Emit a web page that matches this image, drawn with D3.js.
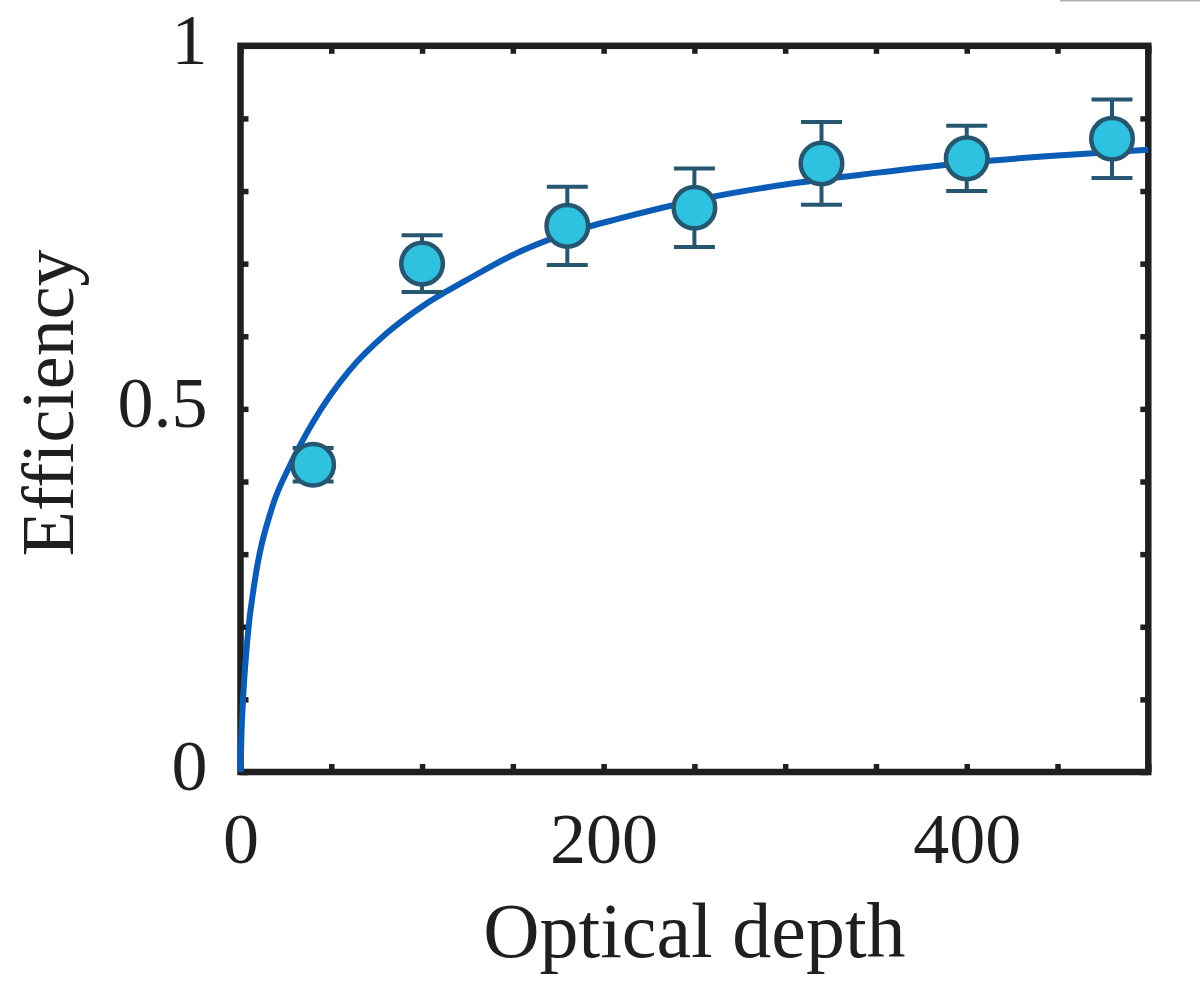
<!DOCTYPE html>
<html>
<head>
<meta charset="utf-8">
<script src="https://cdn.jsdelivr.net/npm/d3@7"></script>
<style>
  body { margin: 0; background: #fff; }
  text { font-family: "Liberation Serif", "DejaVu Serif", serif; fill: #1f1f1f; }
</style>
</head>
<body>
<svg id="chart" width="1200" height="996"></svg>
<script>
// measured points
const depths = [40, 100, 180, 250, 320, 400, 480];
const efficiency = [0.423, 0.700, 0.752, 0.777, 0.838, 0.845, 0.872];
const errors = [0.023, 0.039, 0.054, 0.054, 0.057, 0.045, 0.054];

// fitted curve
const fitDepth = [0, 0.5, 1.3, 3.7, 8.3, 17.5, 27.6, 40, 60, 80, 100, 125, 150, 180, 210, 250, 300, 350, 400, 450, 500];
const fitEff = [0, 0.05, 0.095, 0.18, 0.27, 0.365, 0.424, 0.482, 0.553, 0.603, 0.641, 0.678, 0.712, 0.742, 0.763, 0.787, 0.809, 0.825, 0.839, 0.849, 0.857];

const xTicks = [0, 50, 100, 150, 200, 250, 300, 350, 400, 450, 500];
const xLabels = [0, 200, 400];
const yTicks = [0, 0.1, 0.2, 0.3, 0.4, 0.5, 0.6, 0.7, 0.8, 0.9, 1];
const yLabels = [0, 0.5, 1];

const plotLeft = 240.5, plotRight = 1148.3, plotTop = 45.8, plotBottom = 772;
const ink = "#1f1f1f";

const svg = d3.select("#chart");

// faint line at the top right edge
svg.append("line")
    .attr("x1", 1060).attr("x2", 1200)
    .attr("y1", 0.8).attr("y2", 0.8)
    .attr("stroke", "#b0b0b0").attr("stroke-width", 1.6);

const x = d3.scaleLinear().domain([0, 500]).range([plotLeft, plotRight]);
const y = d3.scaleLinear().domain([0, 1]).range([plotBottom, plotTop]);

// axes, ticks pointing in
const xAxis = d3.axisBottom(x).tickValues(xTicks).tickSize(-8).tickSizeOuter(0).tickPadding(40)
    .tickFormat(d => xLabels.includes(d) ? d3.format("d")(d) : "");
const yAxis = d3.axisLeft(y).tickValues(yTicks).tickSize(-8).tickSizeOuter(0).tickPadding(33)
    .tickFormat(d => yLabels.includes(d) ? d3.format("")(d) : "");

const gx = svg.append("g").attr("transform", `translate(0,${plotBottom})`).call(xAxis);
const gy = svg.append("g").attr("transform", `translate(${plotLeft},0)`).call(yAxis);
svg.append("g").attr("transform", `translate(0,${plotTop})`)
    .call(d3.axisTop(x).tickValues(xTicks).tickSize(-8).tickSizeOuter(0).tickFormat(""));
svg.append("g").attr("transform", `translate(${plotRight},0)`)
    .call(d3.axisRight(y).tickValues(yTicks).tickSize(-8).tickSizeOuter(0).tickFormat(""));

svg.selectAll(".domain").remove();
svg.selectAll(".tick line").attr("stroke", ink).attr("stroke-width", 5.5);
gx.selectAll("text").style("font-size", "72px").attr("fill", ink);
gy.selectAll("text").style("font-size", "72px").attr("fill", ink).attr("dy", "0.24em");

svg.append("rect")
    .attr("x", plotLeft).attr("y", plotTop)
    .attr("width", plotRight - plotLeft).attr("height", plotBottom - plotTop)
    .attr("fill", "none").attr("stroke", ink).attr("stroke-width", 6.5);

// axis titles
svg.append("text")
    .attr("x", (plotLeft + plotRight) / 2).attr("y", 957)
    .attr("text-anchor", "middle")
    .style("font-size", "78px")
    .text("Optical depth");
svg.append("text")
    .attr("transform", `translate(73,${(plotTop + plotBottom) / 2 - 6}) rotate(-90)`)
    .attr("text-anchor", "middle")
    .style("font-size", "74px")
    .text("Efficiency");

// fit curve
const fit = fitDepth.map((d, i) => [d, fitEff[i]]);
svg.append("path")
    .datum(fit)
    .attr("fill", "none")
    .attr("stroke", "#0b5cb6")
    .attr("stroke-width", 6)
    .attr("d", d3.line().x(d => x(d[0])).y(d => y(d[1])).curve(d3.curveMonotoneX));

// error bars
const pts = depths.map((d, i) => ({ d: d, e: efficiency[i], err: errors[i] }));
const errColor = "#275670";
const bars = svg.append("g").attr("stroke", errColor).attr("stroke-width", 4);
bars.selectAll(".stem").data(pts).join("line").attr("class", "stem")
    .attr("x1", p => x(p.d)).attr("x2", p => x(p.d))
    .attr("y1", p => y(p.e - p.err)).attr("y2", p => y(p.e + p.err));
bars.selectAll(".capHi").data(pts).join("line").attr("class", "capHi")
    .attr("x1", p => x(p.d) - 20.5).attr("x2", p => x(p.d) + 20.5)
    .attr("y1", p => y(p.e + p.err)).attr("y2", p => y(p.e + p.err));
bars.selectAll(".capLo").data(pts).join("line").attr("class", "capLo")
    .attr("x1", p => x(p.d) - 20.5).attr("x2", p => x(p.d) + 20.5)
    .attr("y1", p => y(p.e - p.err)).attr("y2", p => y(p.e - p.err));

// markers
svg.append("g").selectAll("circle").data(pts).join("circle")
    .attr("cx", p => x(p.d)).attr("cy", p => y(p.e))
    .attr("r", 20.8)
    .attr("fill", "#2ec2e0")
    .attr("stroke", errColor)
    .attr("stroke-width", 4.5);
</script>
</body>
</html>
